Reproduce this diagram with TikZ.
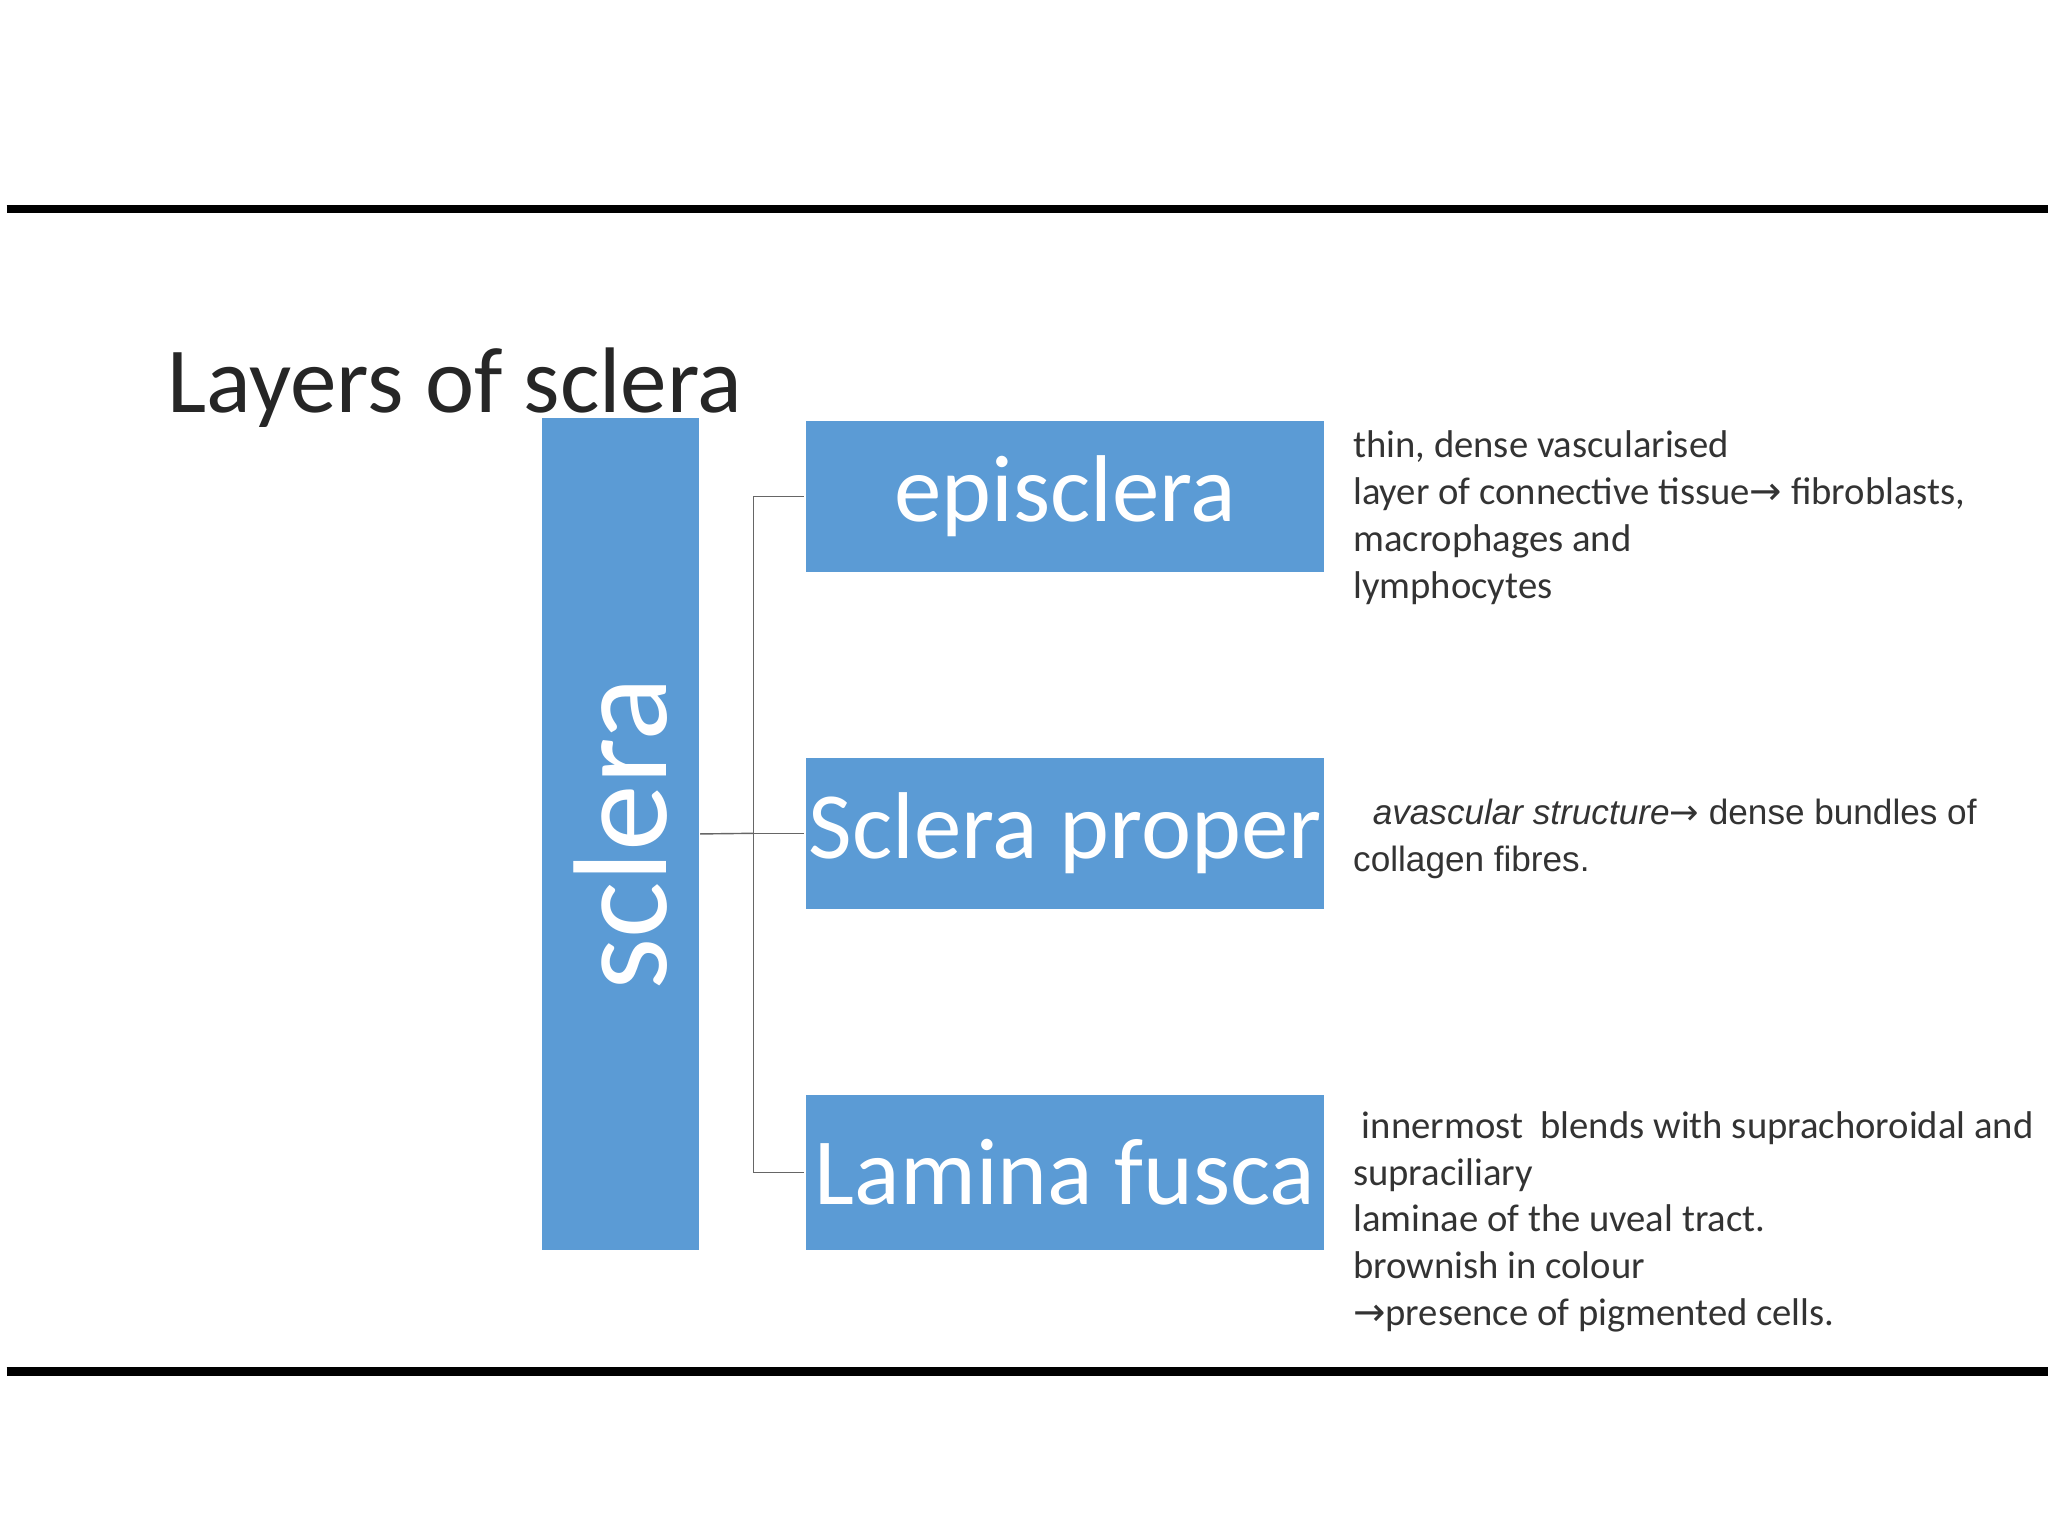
\documentclass[tikz,border=0pt]{standalone}
\usepackage{fontspec}
\setmainfont{Carlito}
\newfontfamily\arialish{Liberation Sans}
\newfontfamily\arrfont{DejaVu Sans}
\newcommand{\ra}{{\arrfont→}}
\begin{document}
\begin{tikzpicture}[x=0.01306cm, y=-0.01306cm,
	every path/.style={thick},
	layerbox/.style={fill=boxblue, text=white, inner sep=0pt, font=\fontsize{27}{30}\selectfont},
	note/.style={anchor=north west, align=left, inner sep=0pt, font=\fontsize{11}{13.3}\selectfont, text=black!80},
	link/.style={draw=black!60, thin},
]
	\definecolor{boxblue}{HTML}{5B9BD5}
	\useasboundingbox (0,0) rectangle (1568,1176);

	\draw [line width=2.5pt] (5,160) -- (1568,160);
	\draw [line width=2.5pt] (5,1050) -- (1568,1050);

	\node (title) [anchor=base west, inner sep=0pt, font=\fontsize{26.5}{30}\selectfont, text=black!85] at (127,316) {Layers of sclera};

	\node (sclera) [layerbox, minimum width=120*0.01306cm, minimum height=637*0.01306cm, font=\fontsize{38}{40}\selectfont] at (475,638.5) {\rotatebox{90}{sclera}};

	\node (epi) [layerbox, minimum width=397*0.01306cm, minimum height=116*0.01306cm] at (815.5,380) {episclera};
	\node (proper) [layerbox, minimum width=397*0.01306cm, minimum height=116*0.01306cm] at (815.5,638) {Sclera proper};
	\node (fusca) [layerbox, minimum width=397*0.01306cm, minimum height=119*0.01306cm] at (815.5,897.5) {Lamina fusca};

	\coordinate (fork) at (577,638);
	\draw [link] (sclera.east) -- (fork);
	\draw [link] (fork) |- (epi.west);
	\draw [link] (fork) -- (proper.west);
	\draw [link] (fork) |- (fusca.west);

	\node (epinote) [note] at (1035,329) {thin, dense vascularised\\layer of connective tissue\ra\ fibroblasts,\\macrophages and\\lymphocytes};
	\node (propernote) [note, font=\arialish\fontsize{10}{13.3}\selectfont] at (1035,611) {\ \ \textit{avascular structure}\ra\ dense bundles of\\collagen fibres.};
	\node (fuscanote) [note] at (1035,850) {\ innermost\ \ blends with suprachoroidal and\\supraciliary\\laminae of the uveal tract.\\brownish in colour\\\ra presence of pigmented cells.};
\end{tikzpicture}
\end{document}
